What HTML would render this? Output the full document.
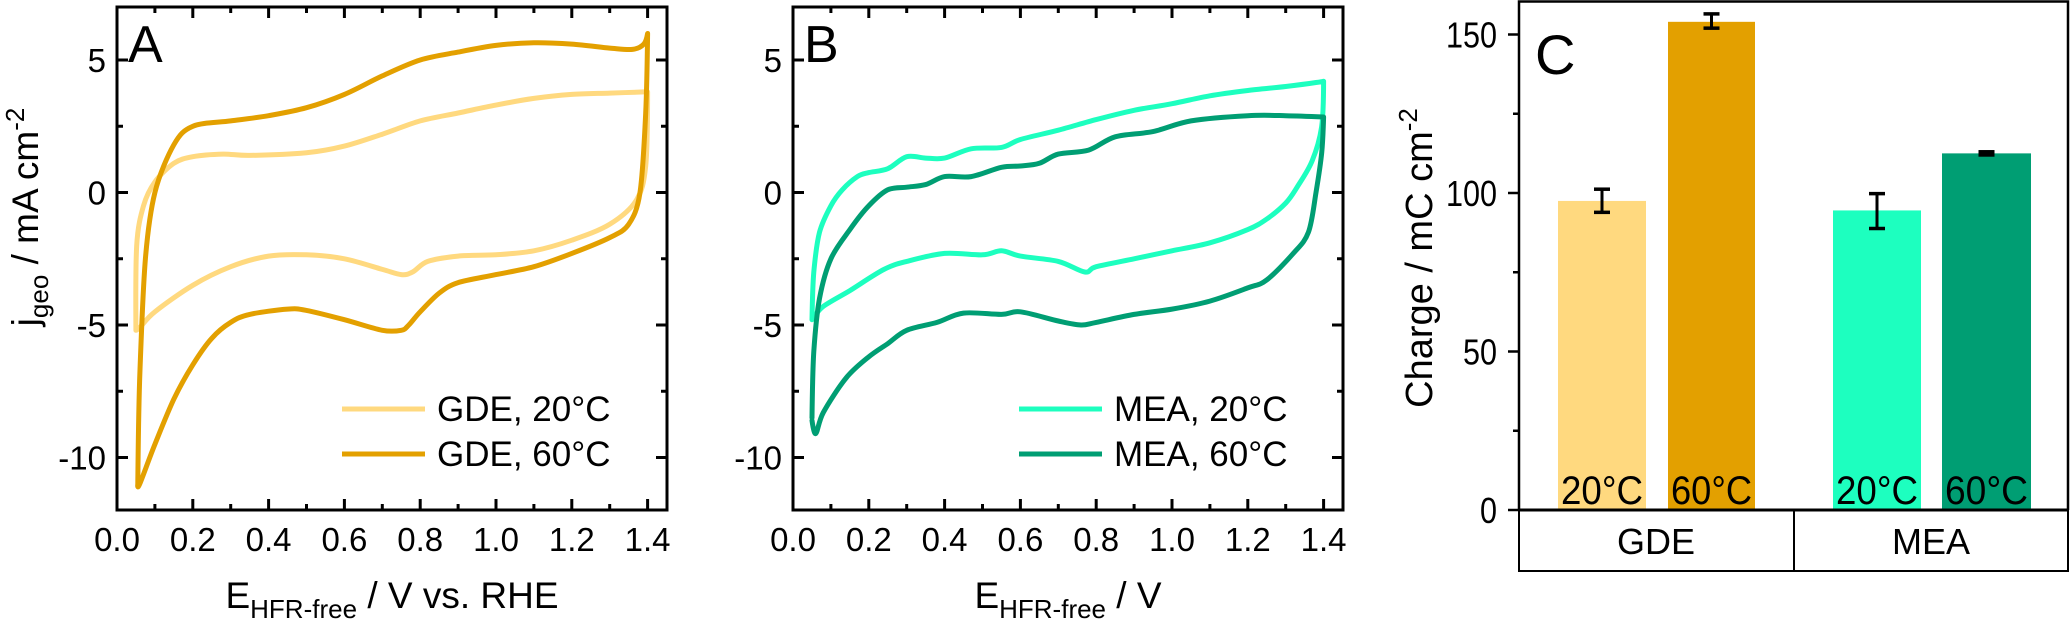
<!DOCTYPE html>
<html><head><meta charset="utf-8"><style>
html,body{margin:0;padding:0;background:#fff;}
svg{display:block;font-family:"Liberation Sans",Arial,sans-serif;}
</style></head><body>
<svg id="s" width="2070" height="619" viewBox="0 0 2070 619" xmlns="http://www.w3.org/2000/svg"></svg>
<script>
const S=document.getElementById('s');let h='';
const Y0=192.5,YU=26.5,XU=379;
function corner(P,i){if(i<=0||i>=P.length-1)return true;return (P[i][0]-P[i-1][0])*(P[i+1][0]-P[i][0])<0;}
function cv(ox,pts,col){
 const P=pts.map(p=>[ox+p[0]*XU,Y0-p[1]*YU]);
 let d='M'+P[0][0].toFixed(1)+' '+P[0][1].toFixed(1);
 for(let i=0;i<P.length-1;i++){
  const p0=P[Math.max(0,i-1)],p1=P[i],p2=P[i+1],p3=P[Math.min(P.length-1,i+2)];
  const t=0.16;
  let c1=[p1[0]+(p2[0]-p0[0])*t,p1[1]+(p2[1]-p0[1])*t];
  let c2=[p2[0]-(p3[0]-p1[0])*t,p2[1]-(p3[1]-p1[1])*t];
  if(corner(P,i))c1=p1.slice();
  if(corner(P,i+1))c2=p2.slice();
  d+=`C${c1[0].toFixed(1)} ${c1[1].toFixed(1)} ${c2[0].toFixed(1)} ${c2[1].toFixed(1)} ${p2[0].toFixed(1)} ${p2[1].toFixed(1)}`;
 }
 h+=`<path d="${d}" fill="none" stroke="${col}" stroke-width="5" stroke-linejoin="round" stroke-linecap="round"/>`;}
function frame(ox){
 const L=ox,R=ox+550,T=7,B=510;
 h+=`<rect x="${L}" y="${T}" width="550" height="${B-T}" fill="none" stroke="#000" stroke-width="3"/>`;
 for(let i=0;i<=14;i++){let x=L+i*0.1*XU,len=i%2?6:11;h+=`<line x1="${x}" y1="${B}" x2="${x}" y2="${B-len}" stroke="#000" stroke-width="3"/><line x1="${x}" y1="${T}" x2="${x}" y2="${T+len}" stroke="#000" stroke-width="3"/>`;
  if(i%2==0)h+=`<text x="${x}" y="551" font-size="33" text-anchor="middle">${(i/10).toFixed(1)}</text>`;}
 for(let j=-12.5;j<=7;j+=2.5){if(j<-12)continue;let y=Y0-j*YU,len=(j%5==0)?11:6;h+=`<line x1="${L}" y1="${y}" x2="${L+len}" y2="${y}" stroke="#000" stroke-width="3"/><line x1="${R}" y1="${y}" x2="${R-len}" y2="${y}" stroke="#000" stroke-width="3"/>`;
  if(j%5==0)h+=`<text x="${L-11}" y="${y+12}" font-size="33" text-anchor="end">${j}</text>`;}
}
const gde20=[[0.05,-5.2],[0.052,-2],[0.07,-0.5],[0.1,0.4],[0.15,1.1],[0.2,1.35],[0.28,1.45],[0.35,1.4],[0.5,1.5],[0.6,1.75],[0.7,2.2],[0.8,2.7],[0.9,3.0],[1.0,3.3],[1.1,3.55],[1.2,3.7],[1.3,3.75],[1.4,3.8],[1.395,1],[1.37,-0.3],[1.3,-1.2],[1.2,-1.8],[1.1,-2.2],[1.0,-2.35],[0.9,-2.4],[0.82,-2.6],[0.78,-3.0],[0.75,-3.1],[0.7,-2.9],[0.6,-2.5],[0.5,-2.35],[0.4,-2.4],[0.3,-2.8],[0.2,-3.5],[0.1,-4.5],[0.06,-5.1],[0.05,-5.2]];
const gde60=[[0.055,-11],[0.06,-7],[0.075,-2.5],[0.1,0],[0.15,1.8],[0.2,2.5],[0.3,2.7],[0.4,2.9],[0.5,3.2],[0.6,3.7],[0.7,4.4],[0.8,5.0],[0.9,5.3],[1.0,5.55],[1.1,5.65],[1.2,5.6],[1.3,5.45],[1.36,5.4],[1.39,5.6],[1.4,6.0],[1.395,3],[1.38,0],[1.35,-1.2],[1.3,-1.7],[1.2,-2.3],[1.1,-2.8],[1.0,-3.1],[0.9,-3.4],[0.85,-3.8],[0.8,-4.5],[0.77,-5.0],[0.75,-5.2],[0.7,-5.2],[0.6,-4.8],[0.5,-4.45],[0.45,-4.4],[0.35,-4.6],[0.3,-4.9],[0.25,-5.5],[0.2,-6.5],[0.15,-7.8],[0.1,-9.5],[0.06,-11],[0.055,-11]];
const mea20=[[0.05,-4.8],[0.055,-3],[0.07,-1.5],[0.1,-0.5],[0.13,0.1],[0.17,0.6],[0.2,0.75],[0.25,0.9],[0.3,1.35],[0.35,1.3],[0.4,1.3],[0.47,1.65],[0.55,1.7],[0.6,2.0],[0.7,2.35],[0.8,2.75],[0.9,3.1],[1.0,3.35],[1.1,3.65],[1.2,3.85],[1.3,4.0],[1.38,4.15],[1.4,4.2],[1.395,2.5],[1.37,1.2],[1.33,0.2],[1.3,-0.4],[1.25,-1.0],[1.2,-1.4],[1.1,-1.9],[1.0,-2.2],[0.9,-2.5],[0.8,-2.8],[0.77,-3.0],[0.7,-2.6],[0.6,-2.4],[0.55,-2.2],[0.5,-2.35],[0.4,-2.3],[0.3,-2.6],[0.24,-2.9],[0.15,-3.7],[0.08,-4.3],[0.05,-4.8]];
const mea60=[[0.05,-8.5],[0.055,-6],[0.07,-4],[0.1,-2.5],[0.15,-1.4],[0.2,-0.5],[0.25,0.1],[0.3,0.2],[0.35,0.3],[0.4,0.6],[0.47,0.6],[0.55,0.95],[0.6,1.0],[0.65,1.1],[0.7,1.45],[0.78,1.6],[0.85,2.1],[0.95,2.3],[1.05,2.7],[1.2,2.9],[1.3,2.9],[1.4,2.85],[1.395,1.5],[1.38,0],[1.36,-1.5],[1.32,-2.3],[1.25,-3.3],[1.2,-3.6],[1.1,-4.1],[1.0,-4.4],[0.9,-4.6],[0.8,-4.9],[0.76,-5.0],[0.7,-4.85],[0.6,-4.5],[0.55,-4.6],[0.45,-4.55],[0.38,-4.9],[0.3,-5.2],[0.25,-5.7],[0.2,-6.2],[0.14,-7.0],[0.08,-8.3],[0.06,-9.1],[0.05,-8.6]];
cv(117,gde20,'#FFD97F');cv(117,gde60,'#E3A000');
cv(793,mea20,'#1DFFBF');cv(793,mea60,'#009E73');
frame(117);frame(793);
h+=`<text x="128" y="62" font-size="52">A</text><text x="804" y="62" font-size="52">B</text><text x="1535" y="74" font-size="56">C</text>`;
function leg(x1,x2,tx,y,col,t){h+=`<line x1="${x1}" y1="${y}" x2="${x2}" y2="${y}" stroke="${col}" stroke-width="5"/><text x="${tx}" y="${y+12}" font-size="35">${t}</text>`;}
leg(342,425,437,409,'#FFD97F','GDE, 20°C');leg(342,425,437,454,'#E3A000','GDE, 60°C');
leg(1019,1102,1114,409,'#1DFFBF','MEA, 20°C');leg(1019,1102,1114,454,'#009E73','MEA, 60°C');
h+=`<text x="392" y="608" font-size="37" text-anchor="middle">E<tspan font-size="26" dy="10">HFR-free</tspan><tspan dy="-10"> / V vs. RHE</tspan></text>`;
h+=`<text x="1068" y="608" font-size="37" text-anchor="middle">E<tspan font-size="26" dy="10">HFR-free</tspan><tspan dy="-10"> / V</tspan></text>`;
h+=`<text transform="translate(38,217) rotate(-90)" font-size="37" text-anchor="middle">j<tspan font-size="26" dy="10">geo</tspan><tspan dy="-10"> / mA cm</tspan><tspan font-size="26" dy="-14">-2</tspan></text>`;
h+=`<text transform="translate(1432,258) rotate(-90)" font-size="38" text-anchor="middle">Charge / mC cm<tspan font-size="26" dy="-15">-2</tspan></text>`;
const CZ=510,CU=3.17;
const bars=[[1558,1646,97.5,101.2,93.9,'#FFD97F','20°C'],[1668,1755,154,156.5,152,'#E3A000','60°C'],[1833,1921,94.5,99.8,88.8,'#1DFFBF','20°C'],[1942,2031,112.5,113,112,'#009E73','60°C']];
bars.forEach(b=>{let top=CZ-b[2]*CU;h+=`<rect x="${b[0]}" y="${top}" width="${b[1]-b[0]}" height="${CZ-top}" fill="${b[5]}"/>`;
 let cx=(b[0]+b[1])/2,y1=CZ-b[3]*CU,y2=CZ-b[4]*CU;h+=`<line x1="${cx}" y1="${y1}" x2="${cx}" y2="${y2}" stroke="#000" stroke-width="3"/><line x1="${cx-8}" y1="${y1}" x2="${cx+8}" y2="${y1}" stroke="#000" stroke-width="3.5"/><line x1="${cx-8}" y1="${y2}" x2="${cx+8}" y2="${y2}" stroke="#000" stroke-width="3.5"/>`;
 h+=`<text x="${cx}" y="${CZ-6}" font-size="40" text-anchor="middle" textLength="${b[1]-b[0]-6}" lengthAdjust="spacingAndGlyphs">${b[6]}</text>`;});
h+=`<path d="M1519 ${CZ} V1.5 H2068 V${CZ}" fill="none" stroke="#000" stroke-width="2.5"/>`;
h+=`<line x1="1519" y1="${CZ}" x2="2068" y2="${CZ}" stroke="#000" stroke-width="3"/>`;
for(let v=0;v<=150;v+=25){let y=CZ-v*CU,len=v%50?6:11;h+=`<line x1="${1519-len}" y1="${y}" x2="1519" y2="${y}" stroke="#000" stroke-width="2.5"/>`;if(v%50==0)h+=`<text x="1497" y="${y+13}" font-size="36" text-anchor="end" textLength="${String(v).length*17}" lengthAdjust="spacingAndGlyphs">${v}</text>`;}
h+=`<path d="M1519 ${CZ} V571 H2068 V${CZ} M1794 ${CZ} V571" fill="none" stroke="#000" stroke-width="2"/>`;
h+=`<text x="1656" y="554" font-size="36" text-anchor="middle">GDE</text><text x="1931" y="554" font-size="36" text-anchor="middle">MEA</text>`;
S.innerHTML=h;
</script>
</body></html>
